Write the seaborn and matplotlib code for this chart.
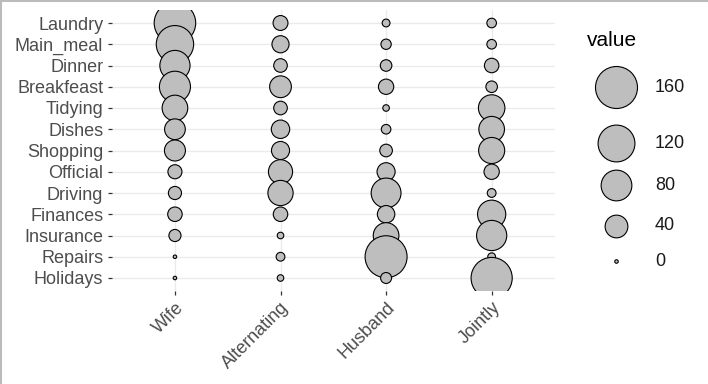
import numpy as np
import pandas as pd
import seaborn as sns
import matplotlib.pyplot as plt
from matplotlib.lines import Line2D
import matplotlib.transforms as mtransforms

tasks = ["Laundry", "Main_meal", "Dinner", "Breakfeast", "Tidying", "Dishes",
         "Shopping", "Official", "Driving", "Finances", "Insurance", "Repairs",
         "Holidays"]
who = ["Wife", "Alternating", "Husband", "Jointly"]
wife = [156, 124, 77, 82, 53, 32, 33, 12, 10, 13, 8, 0, 0]
alternating = [14, 20, 11, 36, 11, 24, 23, 46, 51, 13, 1, 3, 1]
husband = [2, 5, 7, 15, 1, 4, 9, 23, 75, 21, 53, 160, 6]
jointly = [4, 4, 13, 7, 57, 53, 55, 15, 3, 66, 77, 2, 153]
legend_values = [160, 120, 80, 40, 0]

DPI = 100
PX = 72.0 / DPI  # points per pixel


def diam_pt(v):
    # ggplot-like area scale: diameter grows with sqrt(value)
    return (3.5 + 38.5 * np.sqrt(v / 160.0)) * PX


df = pd.DataFrame({"task": tasks, "Wife": wife, "Alternating": alternating,
                   "Husband": husband, "Jointly": jointly})
long = df.melt(id_vars="task", var_name="who", value_name="value")
long["xi"] = long["who"].map({w: i for i, w in enumerate(who)})
long["yi"] = long["task"].map({t: i for i, t in enumerate(tasks)})

sns.set_theme(style="white")
plt.rcParams["font.family"] = ["Liberation Sans", "DejaVu Sans"]

fig = plt.figure(figsize=(7.08, 3.84), dpi=DPI)
ax = fig.add_axes([111.6 / 708, 1 - 290.75 / 384, (555 - 111.6) / 708,
                   (290.75 - 10.25) / 384])

sizes = {v: diam_pt(v) ** 2 for v in long["value"].unique()}
sns.scatterplot(data=long, x="xi", y="yi", size="value", sizes=sizes,
                color="#BEBEBE", edgecolor="black", linewidth=0.8,
                legend=False, ax=ax, zorder=3)

ax.set_xlim(-0.6, len(who) - 0.4)
ax.set_ylim(len(tasks) - 0.4, -0.6)
ax.set_xticks(range(len(who)))
ax.set_yticks(range(len(tasks)))
ax.set_yticklabels(tasks, fontsize=13, color="#4D4D4D")
ax.set_xticklabels(who, fontsize=13, color="#4D4D4D", rotation=45,
                   ha="right", va="top", rotation_mode="anchor")
offset = mtransforms.ScaledTranslation(16 / DPI, -2 / DPI, fig.dpi_scale_trans)
for lab in ax.get_xticklabels():
    lab.set_transform(lab.get_transform() + offset)
ax.set_xlabel("")
ax.set_ylabel("")
ax.grid(True, color="#EBEBEB", linewidth=1.0, zorder=0)
ax.set_axisbelow(True)
for s in ax.spines.values():
    s.set_visible(False)
ax.tick_params(axis="both", which="both", length=3, width=0.9,
               color="#333333", pad=3, bottom=True, left=True)

# legend
fig.text(587 / 708, 1 - 41 / 384, "value", fontsize=15, color="black",
         va="center", ha="left")
key_y = [87, 143, 185, 226, 261]
lax = fig.add_axes([0, 0, 1, 1])
lax.set_xlim(0, 708)
lax.set_ylim(384, 0)
lax.axis("off")
for v, y in zip(legend_values, key_y):
    lax.scatter([616], [y], s=diam_pt(v) ** 2, color="#BEBEBE",
                edgecolor="black", linewidth=0.8)
    lax.text(655, y, str(v), fontsize=13, color="#1A1A1A", va="center",
             ha="left")

# screenshot border (left and top)
fig.add_artist(Line2D([1 / 708, 1 / 708], [0, 1], color="#BBBBBB", lw=1.5))
fig.add_artist(Line2D([0, 1], [1 - 0.5 / 384, 1 - 0.5 / 384], color="#BBBBBB",
                      lw=1.5))

fig.savefig("out.png", dpi=DPI)
